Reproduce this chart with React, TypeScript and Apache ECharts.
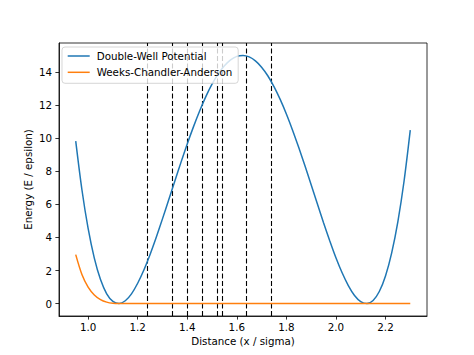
import React, { useEffect, useRef } from "react";
import * as echarts from "echarts";

const xValues = [
  0.95, 0.975, 1.0, 1.025, 1.05, 1.075, 1.1, 1.125, 1.15, 1.175, 1.2, 1.225, 1.25, 1.275, 1.3, 1.325,
  1.35, 1.375, 1.4, 1.425, 1.45, 1.475, 1.5, 1.525, 1.55, 1.575, 1.6, 1.625, 1.65, 1.675, 1.7, 1.725,
  1.75, 1.775, 1.8, 1.825, 1.85, 1.875, 1.9, 1.925, 1.95, 1.975, 2.0, 2.025, 2.05, 2.075, 2.1, 2.125,
  2.15, 2.175, 2.2, 2.225, 2.25, 2.275, 2.3,
];
const doubleWell = [
  9.82, 6.88, 4.54, 2.75, 1.45, 0.59, 0.13, 0.0, 0.17, 0.59, 1.23, 2.03, 2.97, 4.01, 5.12, 6.26,
  7.41, 8.55, 9.65, 10.68, 11.64, 12.51, 13.26, 13.88, 14.37, 14.73, 14.94, 15.0, 14.91, 14.67, 14.29, 13.77,
  13.11, 12.34, 11.46, 10.48, 9.43, 8.33, 7.18, 6.03, 4.89, 3.8, 2.77, 1.86, 1.09, 0.49, 0.12, 0.0,
  0.19, 0.73, 1.67, 3.07, 4.96, 7.41, 10.48,
];
const wca = [
  2.96, 1.76, 1.0, 0.525, 0.242, 0.088, 0.017, 0, 0, 0, 0, 0, 0, 0, 0, 0,
  0, 0, 0, 0, 0, 0, 0, 0, 0, 0, 0, 0, 0, 0, 0, 0,
  0, 0, 0, 0, 0, 0, 0, 0, 0, 0, 0, 0, 0, 0, 0, 0,
  0, 0, 0, 0, 0, 0, 0,
];
const vLines = [1.24, 1.34, 1.4, 1.46, 1.52, 1.54, 1.64, 1.74];
const xTicks = [1.0, 1.2, 1.4, 1.6, 1.8, 2.0, 2.2];
const yTicks = [0, 2, 4, 6, 8, 10, 12, 14];

const FONT = "DejaVu Sans";

export default function App() {
  const ref = useRef<HTMLDivElement>(null);
  useEffect(() => {
    if (!ref.current) return;
    const chart = echarts.init(ref.current, undefined, { renderer: "svg" });
    const dw = xValues.map((x, i) => [x, doubleWell[i]]);
    const wc = xValues.map((x, i) => [x, wca[i]]);
    chart.setOption({
      animation: false,
      backgroundColor: "#ffffff",
      textStyle: { fontFamily: FONT },
      grid: {
        left: 59,
        right: 47,
        top: 43,
        bottom: 39,
        show: true,
        borderColor: "#000000",
        borderWidth: 0.8,
        backgroundColor: "transparent",
      },
      legend: {
        left: 62,
        top: 47,
        z: 20,
        orient: "vertical",
        icon: "rect",
        itemWidth: 22,
        itemHeight: 1.5,
        itemGap: 4.3,
        padding: [3, 6, 5, 5.7],
        backgroundColor: "rgba(255,255,255,0.8)",
        borderColor: "#cccccc",
        borderWidth: 0.8,
        borderRadius: 3,
        textStyle: { fontFamily: FONT, fontSize: 10.3, color: "#000", lineHeight: 12, padding: [0, 0, 0, 2] },
        data: ["Double-Well Potential", "Weeks-Chandler-Anderson"],
      },
      xAxis: {
        type: "value",
        min: 0.8825,
        max: 2.3675,
        name: "Distance (x / sigma)",
        nameLocation: "middle",
        nameGap: 19.5,
        nameMoveOverlap: false,
        nameTextStyle: { fontFamily: FONT, fontSize: 10.3, color: "#000" },
        axisLine: { show: true, onZero: false, lineStyle: { color: "#000", width: 0.8 } },
        splitLine: { show: false },
        axisTick: { show: true, inside: false, length: 3.6, lineStyle: { color: "#000", width: 0.8 }, customValues: xTicks },
        axisLabel: {
          fontFamily: FONT,
          fontSize: 10.3,
          color: "#000",
          margin: 6,
          customValues: xTicks,
          formatter: (v: number) => v.toFixed(1),
        },
      },
      yAxis: {
        type: "value",
        min: -0.75,
        max: 15.75,
        name: "Energy (E / epsilon)",
        nameLocation: "middle",
        nameRotate: 90,
        nameGap: 26,
        nameMoveOverlap: false,
        nameTextStyle: { fontFamily: FONT, fontSize: 10.3, color: "#000" },
        axisLine: { show: true, onZero: false, lineStyle: { color: "#000", width: 0.8 } },
        splitLine: { show: false },
        axisTick: { show: true, inside: false, length: 3.6, lineStyle: { color: "#000", width: 0.8 }, customValues: yTicks },
        axisLabel: {
          fontFamily: FONT,
          fontSize: 10.3,
          color: "#000",
          margin: 7,
          customValues: yTicks,
          formatter: (v: number) => String(Math.round(v)),
        },
      },
      series: [
        {
          name: "Double-Well Potential",
          type: "line",
          data: dw,
          showSymbol: false,
          smooth: 0.3,
          lineStyle: { color: "#1f77b4", width: 1.5 },
          itemStyle: { color: "#1f77b4" },
          z: 3,
        },
        {
          name: "Weeks-Chandler-Anderson",
          type: "line",
          data: wc,
          showSymbol: false,
          smooth: 0.3,
          lineStyle: { color: "#ff7f0e", width: 1.5 },
          itemStyle: { color: "#ff7f0e" },
          z: 3,
          markLine: {
            silent: true,
            z: 2,
            symbol: ["none", "none"],
            label: { show: false },
            lineStyle: { color: "#000", type: [5, 2.5], width: 1.1 },
            data: vLines.map((v) => ({ xAxis: v })),
          },
        },
      ],
    });
    return () => chart.dispose();
  }, []);
  return (
    <div
      ref={ref}
      style={{ position: "fixed", left: 0, top: 0, width: 474, height: 355 }}
    />
  );
}
